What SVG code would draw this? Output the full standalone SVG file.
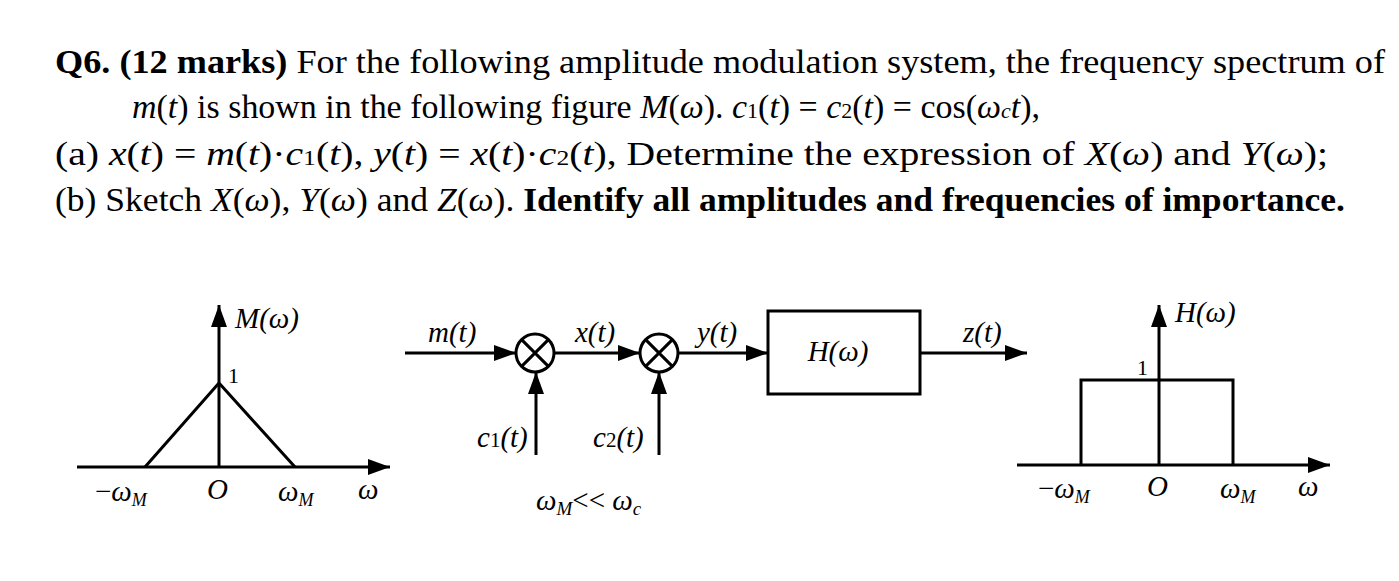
<svg xmlns="http://www.w3.org/2000/svg" width="1399" height="581" viewBox="0 0 1399 581">
<style>
text{font-family:"Liberation Serif","Times New Roman",serif;fill:#000}
.t{font-size:34px}
.l{font-size:29px;font-style:italic}
.ln{stroke:#000;stroke-width:3;fill:none}
</style>
<defs>
<marker id="ar" markerWidth="22" markerHeight="16" refX="22" refY="8" orient="auto" markerUnits="userSpaceOnUse"><path d="M0,0L22,8L0,16z" fill="#000"/></marker></defs>
<g id="title">
<text class="t" x="55" y="73" textLength="1330" lengthAdjust="spacingAndGlyphs"><tspan font-weight="bold">Q6. (12 marks)</tspan> For the following amplitude modulation system, the frequency spectrum of</text>
<text class="t" x="132" y="118" textLength="908" lengthAdjust="spacingAndGlyphs"><tspan font-style="italic">m</tspan>(<tspan font-style="italic">t</tspan>) is shown in the following figure <tspan font-style="italic">M</tspan>(<tspan font-style="italic">ω</tspan>). <tspan font-style="italic">c</tspan><tspan font-size="22">1</tspan>(<tspan font-style="italic">t</tspan>) = <tspan font-style="italic">c</tspan><tspan font-size="22">2</tspan>(<tspan font-style="italic">t</tspan>) = cos(<tspan font-style="italic">ω</tspan><tspan font-size="22" font-style="italic">c</tspan><tspan font-style="italic">t</tspan>),</text>
<text class="t" x="55" y="165" textLength="1273" lengthAdjust="spacingAndGlyphs">(a) <tspan font-style="italic">x</tspan>(<tspan font-style="italic">t</tspan>) = <tspan font-style="italic">m</tspan>(<tspan font-style="italic">t</tspan>)·<tspan font-style="italic">c</tspan><tspan font-size="22">1</tspan>(<tspan font-style="italic">t</tspan>), <tspan font-style="italic">y</tspan>(<tspan font-style="italic">t</tspan>) = <tspan font-style="italic">x</tspan>(<tspan font-style="italic">t</tspan>)·<tspan font-style="italic">c</tspan><tspan font-size="22">2</tspan>(<tspan font-style="italic">t</tspan>), Determine the expression of <tspan font-style="italic">X</tspan>(<tspan font-style="italic">ω</tspan>) and <tspan font-style="italic">Y</tspan>(<tspan font-style="italic">ω</tspan>);</text>
<text class="t" x="55" y="211" textLength="1290" lengthAdjust="spacingAndGlyphs">(b) Sketch <tspan font-style="italic">X</tspan>(<tspan font-style="italic">ω</tspan>), <tspan font-style="italic">Y</tspan>(<tspan font-style="italic">ω</tspan>) and <tspan font-style="italic">Z</tspan>(<tspan font-style="italic">ω</tspan>). <tspan font-weight="bold">Identify all amplitudes and frequencies of importance.</tspan></text>
</g>
<g id="plotM">
<line class="ln" x1="77" y1="467" x2="390" y2="467" marker-end="url(#ar)"/>
<line class="ln" x1="219" y1="467" x2="219" y2="305" marker-end="url(#ar)"/>
<polyline class="ln" points="145,467 219,383 295,467"/>
<text class="l" x="235" y="328" font-size="26">M(ω)</text>
<text x="228" y="383" font-size="22">1</text>
<text class="l" x="95" y="501" font-size="26"><tspan font-style="normal">−</tspan>ω<tspan font-size="18" dy="5">M</tspan></text>
<text class="l" x="207" y="499" font-size="26">O</text>
<text class="l" x="278" y="501" font-size="26">ω<tspan font-size="18" dy="5">M</tspan></text>
<text class="l" x="358" y="499" font-size="26">ω</text>
</g>
<g id="mult1"><circle class="ln" cx="535" cy="353" r="19"/><path class="ln" d="M521.6,339.6L548.4,366.4M548.4,339.6L521.6,366.4"/></g>
<g id="mult2"><circle class="ln" cx="659" cy="353" r="19"/><path class="ln" d="M645.6,339.6L672.4,366.4M672.4,339.6L645.6,366.4"/></g>
<g id="Hbox"><rect class="ln" x="768" y="311" width="152" height="83"/><text class="l" x="838" y="361" text-anchor="middle" font-size="31">H(ω)</text></g>
<g id="connectors">
<line class="ln" x1="405" y1="353" x2="516" y2="353" marker-end="url(#ar)"/>
<line class="ln" x1="554" y1="353" x2="640" y2="353" marker-end="url(#ar)"/>
<line class="ln" x1="678" y1="353" x2="768" y2="353" marker-end="url(#ar)"/>
<line class="ln" x1="920" y1="353" x2="1027" y2="353" marker-end="url(#ar)"/>
<line class="ln" x1="536" y1="455" x2="536" y2="372" marker-end="url(#ar)"/>
<line class="ln" x1="659" y1="455" x2="659" y2="372" marker-end="url(#ar)"/>
</g>
<g id="labels">
<text class="l" x="428" y="342">m(t)</text>
<text class="l" x="575" y="342">x(t)</text>
<text class="l" x="697" y="342">y(t)</text>
<text class="l" x="963" y="342">z(t)</text>
<text class="l" x="477" y="447">c<tspan font-style="normal" font-size="21">1</tspan>(t)</text>
<text class="l" x="593" y="447">c<tspan font-style="normal" font-size="21">2</tspan>(t)</text>
<text class="l" x="536" y="510">ω<tspan font-size="19" dy="5">M</tspan><tspan font-style="normal" dy="-5">&lt;&lt; </tspan>ω<tspan font-size="19" dy="5">c</tspan></text>
</g>
<g id="plotH">
<line class="ln" x1="1017" y1="465" x2="1330" y2="465" marker-end="url(#ar)"/>
<line class="ln" x1="1159" y1="465" x2="1159" y2="305" marker-end="url(#ar)"/>
<polyline class="ln" points="1081,465 1081,380 1233,380 1233,465"/>
<text class="l" x="1175" y="322" font-size="26">H(ω)</text>
<text x="1137" y="375" font-size="22">1</text>
<text class="l" x="1038" y="498" font-size="26"><tspan font-style="normal">−</tspan>ω<tspan font-size="18" dy="5">M</tspan></text>
<text class="l" x="1147" y="496" font-size="26">O</text>
<text class="l" x="1220" y="498" font-size="26">ω<tspan font-size="18" dy="5">M</tspan></text>
<text class="l" x="1298" y="496" font-size="26">ω</text>
</g>
</svg>
